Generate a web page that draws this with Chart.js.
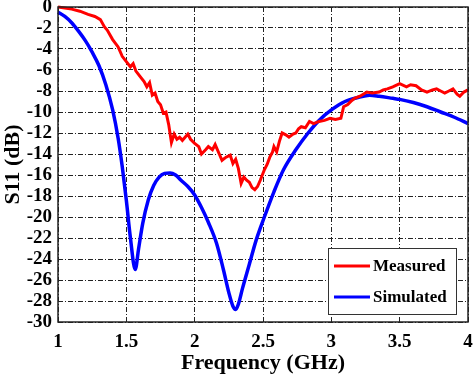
<!DOCTYPE html>
<html><head><meta charset="utf-8">
<script src="https://cdn.jsdelivr.net/npm/chart.js@4/dist/chart.umd.min.js"></script>
<style>html,body{margin:0;padding:0;background:#fff}#wrap{width:474px;height:380px}</style>
</head><body><div id="wrap"><canvas id="c" width="474" height="380"></canvas></div>
<script>
const xTickLabels = ['1','1.5','2','2.5','3','3.5','4'];
const measuredFreq = [1.00,1.05,1.10,1.16,1.22,1.27,1.31,1.34,1.36,1.40,1.44,1.47,1.50,1.53,1.55,1.57,1.60,1.63,1.65,1.67,1.69,1.71,1.73,1.75,1.77,1.79,1.81,1.83,1.85,1.87,1.89,1.91,1.93,1.95,1.97,2.00,2.03,2.05,2.08,2.10,2.13,2.15,2.18,2.20,2.23,2.26,2.28,2.30,2.32,2.34,2.36,2.38,2.40,2.42,2.44,2.46,2.48,2.51,2.53,2.55,2.57,2.58,2.60,2.62,2.64,2.67,2.69,2.72,2.74,2.76,2.78,2.81,2.84,2.87,2.91,2.95,2.99,3.03,3.07,3.09,3.12,3.15,3.17,3.21,3.26,3.30,3.35,3.38,3.41,3.45,3.50,3.55,3.58,3.62,3.66,3.70,3.74,3.77,3.80,3.83,3.86,3.89,3.92,3.94,3.97,4.00];
const measuredS11 = [0,-0.1,-0.2,-0.4,-0.7,-0.9,-1.2,-1.9,-2.2,-3.1,-3.8,-4.7,-5.2,-5.7,-5.4,-6.1,-6.6,-7.1,-7.6,-7.2,-8.4,-8.2,-9.0,-9.3,-10.1,-10.0,-11.2,-12.9,-12.1,-12.6,-12.4,-12.7,-12.4,-12.1,-12.6,-13.0,-13.3,-14.0,-13.6,-13.3,-13.6,-13.1,-14.0,-14.6,-14.3,-14.1,-14.9,-14.5,-15.4,-16.8,-16.2,-16.5,-16.7,-17.2,-17.4,-17.1,-16.5,-15.5,-15.0,-14.3,-13.8,-13.3,-13.8,-12.8,-12.0,-12.2,-12.4,-12.1,-12.0,-11.6,-11.4,-11.5,-10.9,-11.1,-10.9,-10.8,-10.6,-10.7,-10.6,-9.5,-9.3,-8.9,-8.7,-8.5,-8.1,-8.2,-8.1,-7.9,-7.8,-7.6,-7.3,-7.6,-7.4,-7.5,-7.9,-8.1,-7.9,-7.8,-8.0,-8.2,-8.0,-7.8,-8.3,-8.5,-8.1,-7.9];
const simulatedFreq = [1.00,1.05,1.10,1.15,1.20,1.25,1.30,1.35,1.40,1.44,1.47,1.50,1.53,1.565,1.59,1.62,1.66,1.70,1.74,1.78,1.82,1.86,1.90,1.95,2.00,2.05,2.10,2.16,2.21,2.25,2.28,2.30,2.32,2.35,2.40,2.45,2.51,2.58,2.65,2.74,2.83,2.91,3.00,3.10,3.20,3.28,3.35,3.45,3.50,3.60,3.70,3.80,3.90,4.00];
const simulatedS11 = [-0.5,-0.9,-1.5,-2.3,-3.2,-4.3,-5.6,-7.4,-9.8,-12.5,-15.2,-18.4,-22.0,-25.0,-23.0,-20.6,-18.4,-17.0,-16.2,-15.85,-15.8,-16.0,-16.5,-17.1,-17.9,-19.1,-20.5,-22.5,-25.0,-27.2,-28.5,-28.8,-28.3,-26.8,-24.5,-22.2,-20.0,-17.6,-15.5,-13.6,-12.0,-10.8,-9.8,-9.0,-8.6,-8.4,-8.5,-8.7,-8.8,-9.1,-9.5,-10.0,-10.5,-11.1];
const seriesNames = ['Measured','Simulated'];
const seriesColors = ['#ff0000','#0000ff'];

const FONT = 'Liberation Serif, Times New Roman, serif';
const pts = (xs, ys) => xs.map((x, i) => ({x: x, y: ys[i]}));
const noPad = (s) => { s.paddingTop = 0; s.paddingBottom = 0; s.paddingLeft = 0; s.paddingRight = 0; };

const framePlugin = {
  id: 'frame',
  afterDatasetsDraw(chart) {
    const a = chart.chartArea, ctx = chart.ctx;
    ctx.save();
    ctx.strokeStyle = '#222';
    ctx.lineWidth = 1.5;
    ctx.strokeRect(a.left, a.top, a.right - a.left, a.bottom - a.top);
    const w = 128, h = 66;
    const bx = a.right - 12 - w, by = a.bottom - 8 - h;
    ctx.fillStyle = '#fff';
    ctx.fillRect(bx, by, w, h);
    ctx.strokeStyle = '#333';
    ctx.lineWidth = 1;
    ctx.strokeRect(bx + 0.5, by + 0.5, w, h);
    ctx.font = 'bold 17px ' + FONT;
    ctx.textBaseline = 'middle';
    chart.data.datasets.forEach((ds, i) => {
      const yy = by + 18 + i * 31;
      ctx.strokeStyle = ds.borderColor;
      ctx.lineWidth = 3;
      ctx.beginPath();
      ctx.moveTo(bx + 6, yy);
      ctx.lineTo(bx + 42, yy);
      ctx.stroke();
      ctx.fillStyle = '#000';
      ctx.fillText(ds.label, bx + 45, yy + 1);
    });
    ctx.restore();
  }
};

new Chart(document.getElementById('c'), {
  type: 'line',
  data: {
    datasets: [
      {label: seriesNames[0], data: pts(measuredFreq, measuredS11), borderColor: seriesColors[0], borderWidth: 3, pointRadius: 0, tension: 0, fill: false, clip: 4},
      {label: seriesNames[1], data: pts(simulatedFreq, simulatedS11), borderColor: seriesColors[1], borderWidth: 3.5, pointRadius: 0, cubicInterpolationMode: 'monotone', fill: false, clip: 4}
    ]
  },
  options: {
    responsive: false,
    animation: false,
    layout: {autoPadding: false, padding: {top: 7, right: 6, left: 0, bottom: 0}},
    plugins: {legend: {display: false}, tooltip: {enabled: false}},
    scales: {
      x: {
        type: 'linear', min: 1, max: 4,
        afterFit(s) { s.height = 58; noPad(s); },
        ticks: {stepSize: 0.5, autoSkip: false, maxRotation: 0, color: '#000', font: {family: FONT, size: 19, weight: 'bold'}, padding: 9,
          callback: (v) => { const i = Math.round((v - 1) / 0.5); return xTickLabels[i]; }},
        grid: {color: '#222', lineWidth: 1, drawTicks: false},
        border: {display: false, dash: [5, 2, 1, 2]},
        title: {display: true, text: 'Frequency (GHz)', color: '#000', font: {family: FONT, size: 22, weight: 'bold'}, padding: {top: 0, bottom: 3}}
      },
      y: {
        type: 'linear', min: -30, max: 0,
        afterFit(s) { s.width = 58; noPad(s); },
        ticks: {stepSize: 2, autoSkip: false, color: '#000', font: {family: FONT, size: 19, weight: 'bold'}, padding: 6},
        grid: {color: '#222', lineWidth: 1, drawTicks: false},
        border: {display: false, dash: [5, 2, 1, 2]},
        title: {display: true, text: 'S11 (dB)', color: '#000', font: {family: FONT, size: 22, weight: 'bold'}, padding: {top: 0, bottom: 0}}
      }
    }
  },
  plugins: [framePlugin]
});
</script>
</body></html>
